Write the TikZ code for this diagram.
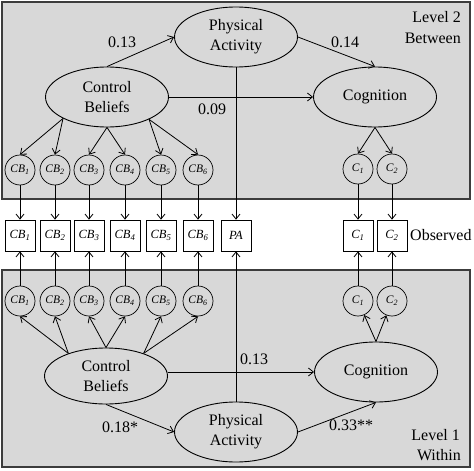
\documentclass[tikz,border=0pt]{standalone}
\usepackage{fontspec}
\setmainfont{Liberation Serif}
\usetikzlibrary{shapes.geometric,arrows.meta}
\definecolor{panel}{HTML}{D8D8D8}
\definecolor{edge}{HTML}{3C3C3C}
\begin{document}
\begin{tikzpicture}[x=1pt,y=-1pt,
  big/.style={font=\fontsize{16}{20}\selectfont},
  lat/.style={ellipse, draw, fill=panel, minimum width=123pt, minimum height=60pt, inner sep=0pt, align=center, line width=0.9pt, big},
  ind/.style={circle, draw, fill=panel, minimum size=30pt, inner sep=0pt, font=\fontsize{11.5}{12}\selectfont\itshape, line width=0.7pt},
  obs/.style={rectangle, draw, fill=white, minimum width=30pt, minimum height=31pt, inner sep=0pt, font=\fontsize{12.5}{13}\selectfont\itshape, line width=0.7pt},
  arr/.style={-{Straight Barb[length=5pt,width=8pt]}, line width=0.8pt},
  lbl/.style={big, inner sep=0pt},
  paneledge/.style={fill=panel, draw=edge, line width=2.5pt}
]
\useasboundingbox (0,0) rectangle (474,471);
\fill[white] (0,0) rectangle (474,471);
\draw[paneledge] (2,2) rectangle (470,199);
\draw[paneledge] (2,270) rectangle (470,467);

% ---------- Level 2 (between) ----------
\node[lat] (paT) at (236,37) {Physical\\Activity};
\node[lat] (cbT) at (107,97) {Control\\Beliefs};
\node[lat] (cogT) at (375,97) {Cognition};

\foreach \i/\x in {1/20,2/55,3/89,4/125,5/161,6/198}{
  \node[ind] (cbt\i) at (\x,170) {CB\textsubscript{\i}};
  \node[obs] (cbo\i) at (\x,235.5) {CB\textsubscript{\i}};
  \node[ind] (cbb\i) at (\x,301) {CB\textsubscript{\i}};
}
\foreach \i/\x in {1/358,2/392}{
  \node[ind] (ct\i) at (\x,169) {C\textsubscript{\i}};
  \node[obs] (co\i) at (\x,235.5) {C\textsubscript{\i}};
  \node[ind] (cb\i) at (\x,301) {C\textsubscript{\i}};
}
\node[obs] (pao) at (236,235.5) {PA};

\draw[arr] (cbT.north) -- (paT.west);
\draw[arr] (paT.east) -- (cogT.north);
\draw[arr] (cbT.east) -- (cogT.west);
\node[lbl] (l013a) at (122,42) {0.13};
\node[lbl] (l014) at (345,42) {0.14};
\node[lbl] (l009) at (212,109) {0.09};

\draw[arr] (cbT.206) -- (cbt1.north);
\draw[arr] (cbT.206) -- (cbt2.north);
\draw[arr] (cbT.south) -- (cbt3.north);
\draw[arr] (cbT.south) -- (cbt4.north);
\draw[arr] (cbT.332) -- (cbt5.north);
\draw[arr] (cbT.332) -- (cbt6.north);
\draw[arr] (cogT.south) -- (ct1.north);
\draw[arr] (cogT.south) -- (ct2.north);

\foreach \i in {1,...,6}{
  \draw[arr] (cbt\i.south) -- (cbo\i.north);
  \draw[arr] (cbb\i.north) -- (cbo\i.south);
}
\foreach \i in {1,2}{
  \draw[arr] (ct\i.south) -- (co\i.north);
  \draw[arr] (cb\i.north) -- (co\i.south);
}
\draw[arr] (paT.south) -- (pao.north);

% ---------- Level 1 (within) ----------
\node[lat, minimum height=56pt] (cbB) at (106,376) {Control\\Beliefs};
\node[lat] (cogB) at (376,372) {Cognition};
\node[lat] (paB) at (236,432) {Physical\\Activity};

\draw[arr] (paB.north) -- (pao.south);
\draw[arr] (cbB.east |- cogB.west) -- (cogB.west);
\draw[arr] (cbB.south) -- (paB.west);
\draw[arr] (paB.east) -- (cogB.south);
\node[lbl] (l013b) at (254,359) {0.13};
\node[lbl] (l018) at (120,427) {0.18*};
\node[lbl] (l033) at (351,425) {0.33**};

\draw[arr] (cbB.149) -- (cbb1.south);
\draw[arr] (cbB.149) -- (cbb2.south);
\draw[arr] (cbB.north) -- (cbb3.south);
\draw[arr] (cbB.north) -- (cbb4.south);
\draw[arr] (cbB.31) -- (cbb5.south);
\draw[arr] (cbB.31) -- (cbb6.south);
\draw[arr] (cogB.north) -- (cb1);
\draw[arr] (cogB.north) -- (cb2);

% ---------- labels ----------
\node[lbl, anchor=base east] (lv2) at (461,23) {Level 2};
\node[lbl, anchor=base east] (btw) at (461,43) {Between};
\node[lbl, anchor=base east] (lv1) at (460,440) {Level 1};
\node[lbl, anchor=base east] (wth) at (461,460) {Within};
\node[lbl, anchor=west] (obsl) at (410,235) {Observed};
\end{tikzpicture}
\end{document}
